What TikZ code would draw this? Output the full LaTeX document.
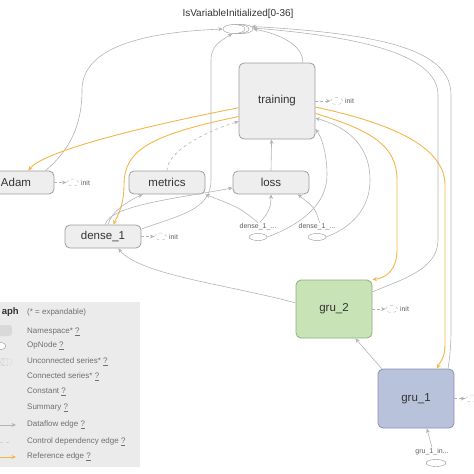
\documentclass[tikz,border=0pt]{standalone}
\usepackage{fontspec}
\setmainfont{Liberation Sans}
\usetikzlibrary{arrows.meta, positioning, shapes.geometric}
\definecolor{boxfill}{HTML}{EEEEEE}
\definecolor{boxline}{HTML}{9E9E9E}
\definecolor{grufill}{HTML}{C8E3B6}
\definecolor{gruline}{HTML}{8FAE7E}
\definecolor{bluefill}{HTML}{B8C2DB}
\definecolor{blueline}{HTML}{8A94B3}
\definecolor{edgegray}{HTML}{B4B4B4}
\definecolor{refyellow}{HTML}{F5B548}
\definecolor{legendfill}{HTML}{EBEBEB}
\definecolor{labelgray}{HTML}{333333}
\definecolor{legendtext}{HTML}{707070}
\tikzstyle{tfgraph}=[x=1pt, y=-1pt, >={Stealth[length=4.5pt,width=4pt]}, text=labelgray]
\tikzstyle{namespace}=[draw=boxline, fill=boxfill, rounded corners=5pt, minimum width=76pt, minimum height=23pt, line width=0.8pt, font=\fontsize{11.5}{12}\selectfont]
\tikzstyle{opnode}=[ellipse, draw=edgegray!80!black, fill=white, minimum width=20pt, minimum height=8pt, inner sep=0pt]
\tikzstyle{initnode}=[ellipse, draw=edgegray, dashed, minimum width=12pt, minimum height=7pt, inner sep=0pt]
\tikzstyle{smalltext}=[font=\fontsize{7}{8}\selectfont, inner sep=1pt, text=labelgray!80]
\tikzstyle{dataedge}=[draw=edgegray, ->, line width=0.6pt]
\tikzstyle{refedge}=[draw=refyellow, ->, line width=0.9pt]
\tikzstyle{ctrledge}=[draw=edgegray, dashed, ->, line width=0.6pt]
\tikzstyle{initedge}=[draw=edgegray, densely dashed, ->, line width=0.5pt]
\tikzstyle{legendrow}=[anchor=west, font=\fontsize{8}{9}\selectfont, text=legendtext, inner sep=0pt]

\begin{document}
\begin{tikzpicture}[tfgraph]
  \useasboundingbox (0,0) rectangle (474,474);
  % legend
  \fill[legendfill] (0,302) rectangle (140,467);
  \node[anchor=east, font=\fontsize{9.5}{10}\bfseries, inner sep=0pt] (legendtitle) at (19,312) {aph};
  \node[legendrow] (expandable) at (27,312) {(* = expandable)};
  \node[legendrow] (lnamespace) at (27,332) {Namespace* \underline{?}};
  \node[legendrow] (lopnode) at (27,346) {OpNode \underline{?}};
  \node[legendrow] (lunconnected) at (27,362) {Unconnected series* \underline{?}};
  \node[legendrow] (lconnected) at (27,377) {Connected series* \underline{?}};
  \node[legendrow] (lconstant) at (27,392) {Constant \underline{?}};
  \node[legendrow] (lsummary) at (27,408) {Summary \underline{?}};
  \node[legendrow] (ldataflow) at (27,425) {Dataflow edge \underline{?}};
  \node[legendrow] (lcontrol) at (27,442) {Control dependency edge \underline{?}};
  \node[legendrow] (lreference) at (27,457) {Reference edge \underline{?}};
  \fill[gray!30, rounded corners=3pt] (-10,325) rectangle (12,336);
  \draw[edgegray!80!black, fill=white] (0,346) ellipse (6pt and 3.5pt);
  \draw[edgegray, densely dotted] (-2,362) ellipse (6pt and 3.5pt);
  \draw[edgegray, densely dotted] (2,362) ellipse (6pt and 3.5pt);
  \draw[edgegray, densely dotted] (6,362) ellipse (6pt and 3.5pt);
  \coordinate (dfa) at (0,425);
  \coordinate (dfb) at (16,425);
  \draw[dataedge] (dfa) -- (dfb);
  \coordinate (cda) at (0,442);
  \coordinate (cdb) at (10,442);
  \draw[edgegray!60, dashed, line width=0.5pt] (cda) -- (cdb);
  \coordinate (rfa) at (0,457);
  \coordinate (rfb) at (16,457);
  \draw[refedge] (rfa) -- (rfb);

  % nodes
  \node[font=\fontsize{10}{11}\selectfont] (isvarlabel) at (238,14) {IsVariableInitialized[0-36]};
  \node[opnode, minimum width=22pt, minimum height=9pt] (isvarc) at (242,29) {};
  \node[opnode, minimum width=22pt, minimum height=9pt] (isvarb) at (238,29) {};
  \node[opnode, minimum width=22pt, minimum height=9pt] (isvar) at (234,29) {};
  \node[namespace, minimum height=76pt] (training) at (277,101) {training};
  \node[namespace] (Adam) at (16,182.5) {Adam};
  \node[namespace] (metrics) at (167,182.5) {metrics};
  \node[namespace] (loss) at (271,182.5) {loss};
  \node[namespace] (dense) at (103,236.5) {dense\_1};
  \node[namespace, minimum height=58pt, fill=grufill, draw=gruline] (gru2) at (334,309) {gru\_2};
  \node[namespace, minimum height=59pt, fill=bluefill, draw=blueline] (gru1) at (416,398.5) {gru\_1};
  \node[smalltext] (dsalabel) at (258,227) {dense\_1\_...};
  \node[opnode, minimum width=18pt, minimum height=7pt] (dsa) at (258,237) {};
  \node[smalltext] (dsblabel) at (317,227) {dense\_1\_...};
  \node[opnode, minimum width=18pt, minimum height=7pt] (dsb) at (317,237) {};
  \node[smalltext] (gruinlabel) at (432,452) {gru\_1\_in...};
  \node[opnode, minimum width=20pt, minimum height=7pt] (gruin) at (436,463) {};

  % init nodes
  \node[initnode] (traininginit) [right=15pt of training] {};
  \node[smalltext] (traininginitlabel) [right=1pt of traininginit] {init};
  \node[initnode] (Adaminit) [right=12pt of Adam] {};
  \node[smalltext] (Adaminitlabel) [right=1pt of Adaminit] {init};
  \node[initnode] (denseinit) [right=13pt of dense] {};
  \node[smalltext] (denseinitlabel) [right=1pt of denseinit] {init};
  \node[initnode] (gru2init) [right=13pt of gru2] {};
  \node[smalltext] (gru2initlabel) [right=1pt of gru2init] {init};
  \node[initnode] (gru1init) [right=11pt of gru1] {};
  \path[initedge] (training.east) -- (traininginit);
  \path[initedge] (Adam.east) -- (Adaminit);
  \path[initedge] (dense.east) -- (denseinit);
  \path[initedge] (gru2.east) -- (gru2init);
  \path[initedge] (gru1.east) -- (gru1init);

  % edges
  \path[dataedge] (Adam.22) .. controls (70,150) and (82,125) .. (82,90) .. controls (82,45) and (150,32) .. (isvar.west);
  \path[refedge] (training.190) .. controls (150,125) and (45,150) .. (Adam.44);
  \path[refedge] (training.202) .. controls (150,135) and (124,150) .. (124,185) .. controls (124,205) and (118,215) .. (dense.49);
  \path[ctrledge] (metrics.north) .. controls (167,150) and (210,130) .. (training.208);
  \path[dataedge] (dense.11) .. controls (180,215) and (211,210) .. (211,180) -- (211,60) .. controls (211,45) and (222,40) .. (isvar.250);
  \path[dataedge] (training.56) .. controls (303,45) and (280,34) .. (isvarc.east);
  \path[dataedge] (loss.north) -- (training.262);
  \path[dataedge] (dsa.east) .. controls (300,225) and (327,205) .. (327,175) .. controls (327,150) and (320,135) .. (training.324);
  \path[dataedge] (dsblabel.60) .. controls (315,208) .. (loss.336);
  \path[dataedge] (dsalabel.70) .. controls (270,212) and (271,205) .. (loss.south);
  \path[dataedge] (dsb.east) .. controls (350,228) and (370,210) .. (370,180) .. controls (370,140) and (340,125) .. (training.336);
  \path[refedge] (training.342) .. controls (370,130) and (397,145) .. (397,180) -- (397,250) .. controls (397,270) and (386,278) .. (gru2.north east);
  \path[refedge] (training.351) .. controls (400,125) and (445,150) .. (445,185) -- (445,345) .. controls (445,358) and (440,362) .. (gru1.55);
  \path[dataedge] (gru2.24) .. controls (400,280) and (438,270) .. (438,240) -- (438,95) .. controls (438,60) and (380,38) .. (isvarc.5);
  \path[dataedge] (gru1.43) .. controls (450,355) and (451,345) .. (451,330) -- (451,95) .. controls (451,52) and (390,34) .. (isvarc.15);
  \path[dataedge] (dense.66) .. controls (110,212) and (130,200) .. (metrics.206);
  \path[dataedge] (dense.80) .. controls (110,205) and (180,198) .. (loss.188);
  \path[dataedge] (dsalabel.north) .. controls (240,208) .. (metrics.south east);
  \path[dataedge] (gru2.171) .. controls (230,285) and (140,275) .. (dense.322);
  \path[dataedge] (gru1.139) -- (gru2.306);
  \path[dataedge] (gruinlabel.north) -- (gru1.290);
\end{tikzpicture}
\end{document}
